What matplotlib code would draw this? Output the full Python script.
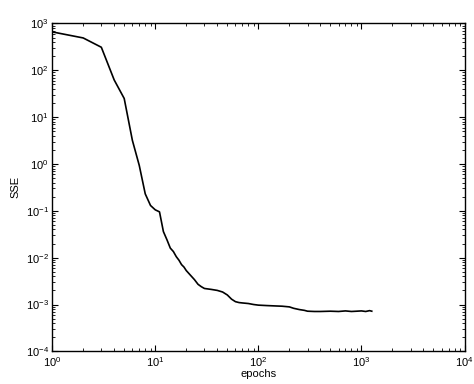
import matplotlib
matplotlib.use("Agg")
import matplotlib.pyplot as plt
from matplotlib.ticker import LogLocator, NullFormatter

epochs = [1, 2, 3, 4, 5, 6, 7, 8, 9, 10, 11, 12, 13, 14, 15, 16, 17, 18, 19, 20,
          22, 24, 26, 28, 30, 35, 40, 45, 50, 55, 60, 65, 70, 80, 90, 100, 120,
          150, 170, 200, 220, 250, 280, 300, 350, 400, 500, 600, 700, 800, 900,
          1000, 1100, 1200, 1260]
sse = [6.6e2, 4.9e2, 3.1e2, 6.2e1, 2.5e1, 3.2e0, 9.3e-1, 2.3e-1, 1.3e-1, 1.05e-1,
       9.5e-2, 3.6e-2, 2.4e-2, 1.6e-2, 1.35e-2, 1.05e-2, 8.8e-3, 7.1e-3, 6.3e-3, 5.3e-3,
       4.2e-3, 3.4e-3, 2.7e-3, 2.4e-3, 2.2e-3, 2.1e-3, 2.0e-3, 1.85e-3, 1.6e-3, 1.3e-3,
       1.15e-3, 1.1e-3, 1.08e-3, 1.05e-3, 1.0e-3, 9.7e-4, 9.5e-4,
       9.3e-4, 9.2e-4, 8.9e-4, 8.3e-4, 7.8e-4, 7.5e-4, 7.2e-4, 7.1e-4, 7.1e-4, 7.2e-4,
       7.1e-4, 7.3e-4, 7.1e-4, 7.2e-4, 7.3e-4, 7.1e-4, 7.4e-4, 7.2e-4]

xlim = (1, 1e4)
ylim = (1e-4, 1e3)

plt.rcParams['font.family'] = ['Liberation Sans', 'DejaVu Sans']
fig = plt.figure(figsize=(4.74, 3.84), dpi=100)
ax = fig.add_axes([0.110, 0.085, 0.870, 0.854])
ax.plot(epochs, sse, color='black', linewidth=1.2)
ax.set_xscale('log')
ax.set_yscale('log')
ax.set_xlim(*xlim)
ax.set_ylim(*ylim)
ax.xaxis.set_major_locator(LogLocator(base=10, numticks=10))
ax.yaxis.set_major_locator(LogLocator(base=10, numticks=10))
ax.xaxis.set_minor_locator(LogLocator(base=10, subs=range(2, 10), numticks=20))
ax.yaxis.set_minor_locator(LogLocator(base=10, subs=range(2, 10), numticks=20))
ax.xaxis.set_minor_formatter(NullFormatter())
ax.yaxis.set_minor_formatter(NullFormatter())
ax.tick_params(which='both', direction='in', top=True, right=True, colors='black', labelsize=8)
ax.tick_params(which='major', length=4, width=0.8, pad=2.5)
ax.tick_params(which='minor', length=2, width=0.6)
for s in ax.spines.values():
    s.set_linewidth(1.0)
    s.set_color('black')
ax.set_xlabel('epochs', fontsize=8, labelpad=0)
ax.set_ylabel('SSE', fontsize=8, labelpad=4)
fig.savefig('out.png', dpi=100)
